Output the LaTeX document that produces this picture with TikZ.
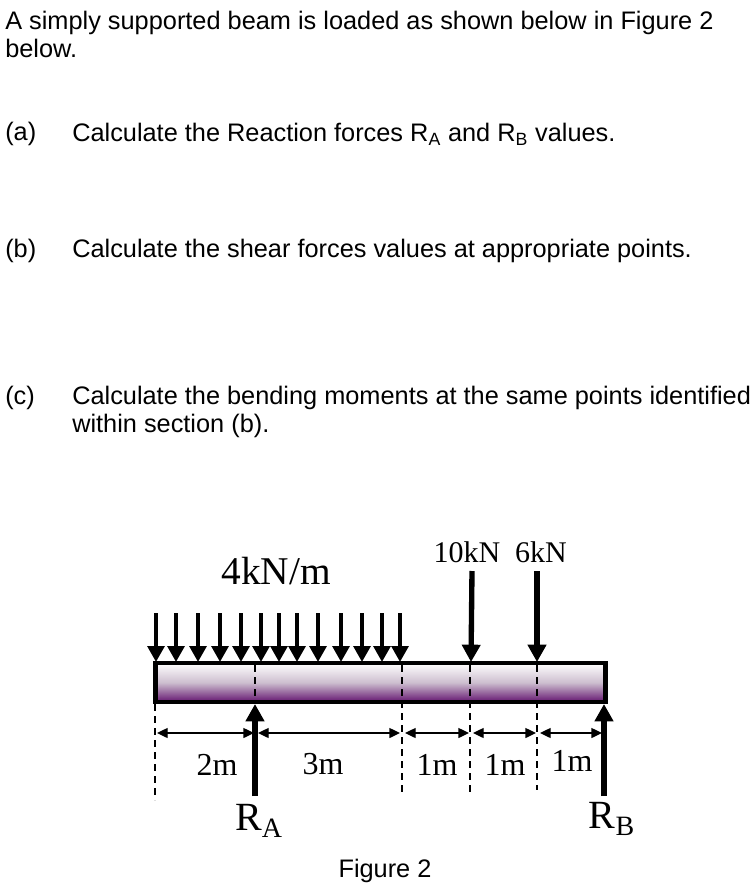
\documentclass[tikz,border=0pt]{standalone}
\usepackage{fontspec}
\setmainfont{Liberation Sans}
\newfontfamily\labelfont{Liberation Serif}
\usetikzlibrary{arrows.meta}
\definecolor{beampurple}{RGB}{100,22,112}
\definecolor{beammid}{RGB}{205,190,207}
\tikzset{
	question/.style={anchor=west,align=left,inner sep=0pt,font=\fontsize{19}{21}\selectfont},
	dimtext/.style={inner sep=0pt,font=\labelfont\fontsize{24}{26}\selectfont},
	loadtext/.style={inner sep=0pt,font=\labelfont\fontsize{22.5}{24}\selectfont},
	load/.style={line width=4pt,-{Triangle[length=13pt,width=13.5pt]}},
	udl/.style={line width=3.7pt,-{Triangle[length=12pt,width=12.5pt]}},
	guide/.style={line width=0.9pt,dash pattern=on 5pt off 4pt},
	span/.style={line width=1pt,{Triangle[length=8pt,width=7.5pt]}-{Triangle[length=8pt,width=7.5pt]}}
}
\begin{document}
\begin{tikzpicture}[x=0.75pt,y=-0.75pt]
	\useasboundingbox (0,0) rectangle (754,889);
	% question text
	\node[question] (intro) at (5,34) {A simply supported beam is loaded as shown below in Figure 2\\below.};
	\node[question] (parta) at (5,134) {(a)};
	\node[question] (texta) at (72,134) {Calculate the Reaction forces R\textsubscript{A} and R\textsubscript{B} values.};
	\node[question] (partb) at (5,251) {(b)};
	\node[question] (textb) at (72,251) {Calculate the shear forces values at appropriate points.};
	\node[question] (partc) at (5,398) {(c)};
	\node[question] (textc) at (72,412) {Calculate the bending moments at the same points identified\\within section (b).};
	% beam
	\node[draw,line width=3.2pt,minimum width=337.5pt,minimum height=29pt,inner sep=0pt,top color=white,bottom color=beampurple,middle color=beammid] (beam) at (380.5,682.5) {};
	% distributed load
	\foreach \i/\x in {1/156,2/176,3/198,4/220,5/241,6/261,7/279,8/297,9/318,10/341,11/362,12/382,13/400}{
		\coordinate (udl\i) at (\x,613);
		\coordinate (udltip\i) at (\x,662);
		\draw[udl] (udl\i) -- (udltip\i);
	}
	% point loads
	\coordinate (p1) at (472,571);
	\coordinate (p1tip) at (471,662);
	\coordinate (p2) at (537,571);
	\coordinate (p2tip) at (537,662);
	\draw[load] (p1) -- (p1tip);
	\draw[load] (p2) -- (p2tip);
	% guides and spans
	\foreach \n/\x/\ya/\yb in {a/155/704/800,b/255/665/702,c/402/665/795,d/470/665/793,e/537/665/790}{
		\coordinate (g\n) at (\x,\ya);
		\coordinate (h\n) at (\x,\yb);
		\draw[guide] (g\n) -- (h\n);
	}
	\foreach \n/\xa/\xb in {s1/157/254,s2/258/400,s3/405/469,s4/473/536,s5/540/602}{
		\coordinate (\n a) at (\xa,733);
		\coordinate (\n b) at (\xb,733);
		\draw[span] (\n a) -- (\n b);
	}
	% reactions
	\coordinate (ra) at (255,796);
	\coordinate (ratip) at (255,704);
	\coordinate (rb) at (604,796);
	\coordinate (rbtip) at (604,704);
	\draw[load] (ra) -- (ratip);
	\draw[load] (rb) -- (rbtip);
	% labels
	\node[loadtext] (w) at (276,571) {\fontsize{29.5}{31}\selectfont 4kN/m};
	\node[loadtext] (f1) at (467,552) {10kN};
	\node[loadtext] (f2) at (541,552) {6kN};
	\node[dimtext] (d1) at (217,765) {2m};
	\node[dimtext] (d2) at (323,764) {3m};
	\node[dimtext] (d3) at (437,765) {1m};
	\node[dimtext] (d4) at (505,765) {1m};
	\node[dimtext] (d5) at (572,761) {1m};
	\node[loadtext] (lra) at (259,821) {\fontsize{30}{32}\selectfont R\textsubscript{A}};
	\node[loadtext] (lrb) at (612,819) {\fontsize{30}{32}\selectfont R\textsubscript{B}};
	\node[inner sep=0pt,font=\fontsize{19}{21}\selectfont] (fig) at (385,871) {Figure 2};
\end{tikzpicture}
\end{document}
